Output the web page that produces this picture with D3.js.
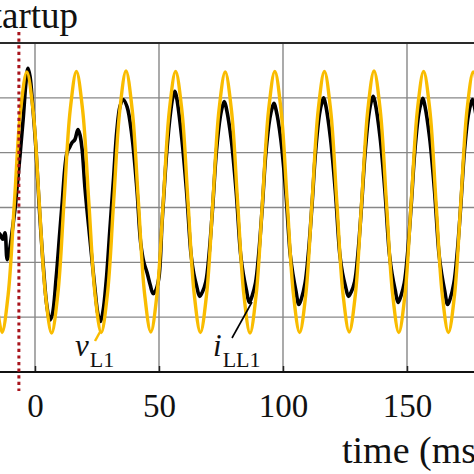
<!DOCTYPE html>
<html>
<head>
<meta charset="utf-8">
<script src="https://cdn.jsdelivr.net/npm/d3@7"></script>
<style>
  html, body { margin: 0; padding: 0; background: #fff; }
  svg { display: block; }
  text { font-family: "Liberation Serif", "DejaVu Serif", serif; fill: #111; }
</style>
</head>
<body>
<svg id="chart" width="474" height="474"></svg>
<script>
// ---- data ----
const xTicks = [0, 50, 100, 150];
const xTickLabels = ["0", "50", "100", "150"];
const xGridValues = [0, 50, 100, 150];
const yGridValues = [-2, -1, 0, 1, 2];
const startupTime = -6.5;
const axisTitle = "time (ms)";
const startupLabel = "startup";

// v_L1 (yellow)
const vTime = [-15.8, -13.3, -10.8, -8.3, -5.8, -3.3, -0.8, 1.7, 4.2, 6.7, 9.2, 11.7, 14.2, 16.7, 19.2, 21.7,
  24.2, 26.7, 29.2, 31.7, 34.2, 36.7, 39.2, 41.7, 44.2, 46.7, 49.2, 51.7, 54.2, 56.7, 59.2, 61.7, 64.2, 66.7,
  69.2, 71.7, 74.2, 76.7, 79.2, 81.7, 84.2, 86.7, 89.2, 91.7, 94.2, 96.7, 99.2, 101.7, 104.2, 106.7, 109.2,
  111.7, 114.2, 116.7, 119.2, 121.7, 124.2, 126.7, 129.2, 131.7, 134.2, 136.7, 139.2, 141.7, 144.2, 146.7,
  149.2, 151.7, 154.2, 156.7, 159.2, 161.7, 164.2, 166.7, 169.2, 171.7, 174.2, 176.7, 179.2, 181.7, 184.2,
  186.7, 189.2, 191.7, 194.2, 196.7, 199.2, 201.7];
const vValue = [-1.58, -2.28, -1.58, 0.10, 1.78, 2.47, 1.78, 0.10,
  -1.58, -2.29, -1.58, 0.10, 1.78, 2.48, 1.78, 0.10,
  -1.58, -2.28, -1.58, 0.10, 1.78, 2.49, 1.78, 0.10,
  -1.58, -2.27, -1.58, 0.10, 1.78, 2.48, 1.78, 0.10,
  -1.58, -2.28, -1.58, 0.10, 1.78, 2.47, 1.78, 0.10,
  -1.58, -2.29, -1.58, 0.10, 1.78, 2.48, 1.78, 0.10,
  -1.58, -2.28, -1.58, 0.10, 1.78, 2.48, 1.78, 0.10,
  -1.58, -2.27, -1.58, 0.10, 1.78, 2.49, 1.78, 0.10,
  -1.58, -2.28, -1.58, 0.10, 1.78, 2.48, 1.78, 0.10,
  -1.58, -2.28, -1.58, 0.10, 1.78, 2.47, 1.78, 0.10,
  -1.58, -2.28, -1.58, 0.10, 1.78, 2.48, 1.78, 0.10];

// i_LL1 (black)
const iTime = [-15.0, -14.1, -13.0, -12.1, -11.2, -8.1, -7.3, -4.8, -3.6, -2.8, -2.0, -1.0, 0.4, 1.6, 3.4, 4.8,
  6.0, 7.0, 8.5, 10.0, 10.9, 12.9, 14.1, 14.9, 16.1, 17.3, 18.1, 19.0, 20.2, 22.2, 24.2, 25.4, 26.4, 27.4,
  28.7, 30.2, 31.7, 33.0, 34.3, 35.5, 37.1, 39.1, 41.1, 42.6, 43.9, 45.2, 46.5, 47.6, 48.6, 49.9, 51.2,
  51.7, 53.1, 54.7, 55.7, 56.4, 57.2, 59.1, 61.1, 62.9, 64.0, 65.2, 66.4, 67.5, 68.9, 70.2,
  71.7, 73.1, 74.7, 75.7, 76.4, 77.2, 79.1, 81.1, 82.9, 84.0, 85.2, 86.4, 87.5, 88.9, 90.2,
  91.7, 93.1, 94.7, 95.7, 96.4, 97.2, 99.1, 101.1, 102.9, 104.0, 105.2, 106.4, 107.5, 108.9, 110.2,
  111.7, 113.1, 114.7, 115.7, 116.4, 117.2, 119.1, 121.1, 122.9, 124.0, 125.2, 126.4, 127.5, 128.9, 130.2,
  131.7, 133.1, 134.7, 135.7, 136.4, 137.2, 139.1, 141.1, 142.9, 144.0, 145.2, 146.4, 147.5, 148.9, 150.2,
  151.7, 153.1, 154.7, 155.7, 156.4, 157.2, 159.1, 161.1, 162.9, 164.0, 165.2, 166.4, 167.5, 168.9, 170.2,
  171.7, 173.1, 174.7, 175.7, 176.4, 177.2, 179.1, 181.1, 182.9, 184.0, 185.2, 186.4, 187.5, 188.9, 190.2,
  191.7, 193.1, 194.7, 195.7, 196.4, 197.2, 199.1, 201.1];
const iValue = [-0.45, -0.49, -0.58, -0.46, -0.95, -0.04, 0.33, 1.60, 2.30, 2.54, 2.39, 1.90, 1.06, 0.10, -1.10, -1.80,
  -2.05, -1.95, -1.30, -0.45, 0.05, 1.00, 1.11, 1.18, 1.24, 1.42, 1.33, 1.06, 0.33, -0.60, -1.50, -1.95, -2.08, -1.90,
  -1.35, -0.40, 0.55, 1.40, 1.85, 1.97, 1.84, 1.30, 0.33, -0.64, -1.00, -1.19, -1.42, -1.57, -1.52, -1.30, -0.30,
  0.05, 1.00, 1.75, 2.04, 2.12, 1.98, 1.30, 0.30, -0.85, -1.20, -1.44, -1.62, -1.54, -1.35, -0.85,
  0.05, 1.00, 1.65, 1.86, 1.93, 1.80, 1.25, 0.30, -0.85, -1.22, -1.50, -1.73, -1.62, -1.38, -0.85,
  0.05, 1.00, 1.63, 1.83, 1.90, 1.78, 1.25, 0.30, -0.85, -1.22, -1.52, -1.77, -1.65, -1.38, -0.85,
  0.05, 1.00, 1.70, 1.92, 2.00, 1.87, 1.28, 0.30, -0.85, -1.20, -1.44, -1.62, -1.54, -1.35, -0.85,
  0.05, 1.00, 1.72, 1.95, 2.03, 1.90, 1.30, 0.30, -0.85, -1.22, -1.50, -1.73, -1.62, -1.38, -0.85,
  0.05, 1.00, 1.70, 1.91, 1.99, 1.86, 1.28, 0.30, -0.85, -1.22, -1.52, -1.77, -1.65, -1.38, -0.85,
  0.05, 1.00, 1.68, 1.89, 1.97, 1.84, 1.27, 0.30, -0.85, -1.20, -1.47, -1.70, -1.60, -1.36, -0.85,
  0.05, 1.00, 1.70, 1.90, 1.98, 1.85, 1.27, 0.30];

// ---- drawing ----
const W = 474, H = 474;
const svg = d3.select("#chart");
const x = d3.scaleLinear().domain([0, 150]).range([35, 407]);
const y = d3.scaleLinear().domain([-3, 3]).range([372, 43]);

// horizontal grid lines
svg.append("g").selectAll("line").data(yGridValues).join("line")
  .attr("x1", -5).attr("x2", W + 5)
  .attr("y1", d => y(d)).attr("y2", d => y(d))
  .attr("stroke", "#878787").attr("stroke-width", 1.4);

// vertical grid lines
svg.append("g").selectAll("line").data(xGridValues).join("line")
  .attr("x1", d => x(d)).attr("x2", d => x(d))
  .attr("y1", y(3)).attr("y2", y(-3))
  .attr("stroke", "#878787").attr("stroke-width", 1.4);

// top border
svg.append("line").attr("x1", -5).attr("x2", W + 5)
  .attr("y1", y(3)).attr("y2", y(3))
  .attr("stroke", "#2a2a2a").attr("stroke-width", 2);

// curves
const iData = iTime.map((t, k) => [t, iValue[k]]);
const vData = vTime.map((t, k) => [t, vValue[k]]);
const line = d3.line().x(d => x(d[0])).y(d => y(d[1])).curve(d3.curveCatmullRom.alpha(0.5));

svg.append("path").datum(iData).attr("d", line)
  .attr("fill", "none").attr("stroke", "#000").attr("stroke-width", 3.6)
  .attr("stroke-linejoin", "round");
svg.append("path").datum(vData).attr("d", line)
  .attr("fill", "none").attr("stroke", "#F9BC00").attr("stroke-width", 3.4)
  .attr("stroke-linejoin", "round");

// bottom axis
const axis = d3.axisBottom(x).tickValues(xTicks)
  .tickFormat((d, k) => xTickLabels[k])
  .tickSizeInner(-6).tickSizeOuter(0).tickPadding(22);
const gAxis = svg.append("g").attr("transform", `translate(0,${y(-3)})`).call(axis);
gAxis.select(".domain").remove();
gAxis.selectAll(".tick line").attr("stroke", "#222").attr("stroke-width", 1.5);
gAxis.selectAll(".tick text").style("font-size", "33px").attr("fill", "#111");
svg.append("line").attr("x1", -5).attr("x2", W + 5)
  .attr("y1", y(-3)).attr("y2", y(-3))
  .attr("stroke", "#111").attr("stroke-width", 2);

// startup marker
svg.append("line")
  .attr("x1", x(startupTime)).attr("x2", x(startupTime))
  .attr("y1", 32).attr("y2", 391)
  .attr("stroke", "#A8141C").attr("stroke-width", 3)
  .attr("stroke-dasharray", "3.2,3.4");
svg.append("text").attr("x", 78).attr("y", 28)
  .attr("text-anchor", "end").style("font-size", "37px").text(startupLabel);

// axis title
svg.append("text").attr("x", 342).attr("y", 463)
  .style("font-size", "38px").text(axisTitle);

// series labels
const vl = svg.append("text").attr("x", 75).attr("y", 356).style("font-size", "31px");
vl.append("tspan").attr("font-style", "italic").text("v");
vl.append("tspan").style("font-size", "22px").attr("dy", 11).attr("dx", 1).text("L1");
svg.append("line").attr("x1", 95).attr("y1", 341).attr("x2", 100).attr("y2", 332)
  .attr("stroke", "#F9BC00").attr("stroke-width", 2.5);

const il = svg.append("text").attr("x", 213).attr("y", 356).style("font-size", "31px");
il.append("tspan").attr("font-style", "italic").text("i");
il.append("tspan").style("font-size", "22px").attr("dy", 11).attr("dx", 1).text("LL1");
svg.append("line").attr("x1", 232).attr("y1", 338).attr("x2", 252).attr("y2", 302)
  .attr("stroke", "#000").attr("stroke-width", 1.6);
</script>
</body>
</html>
